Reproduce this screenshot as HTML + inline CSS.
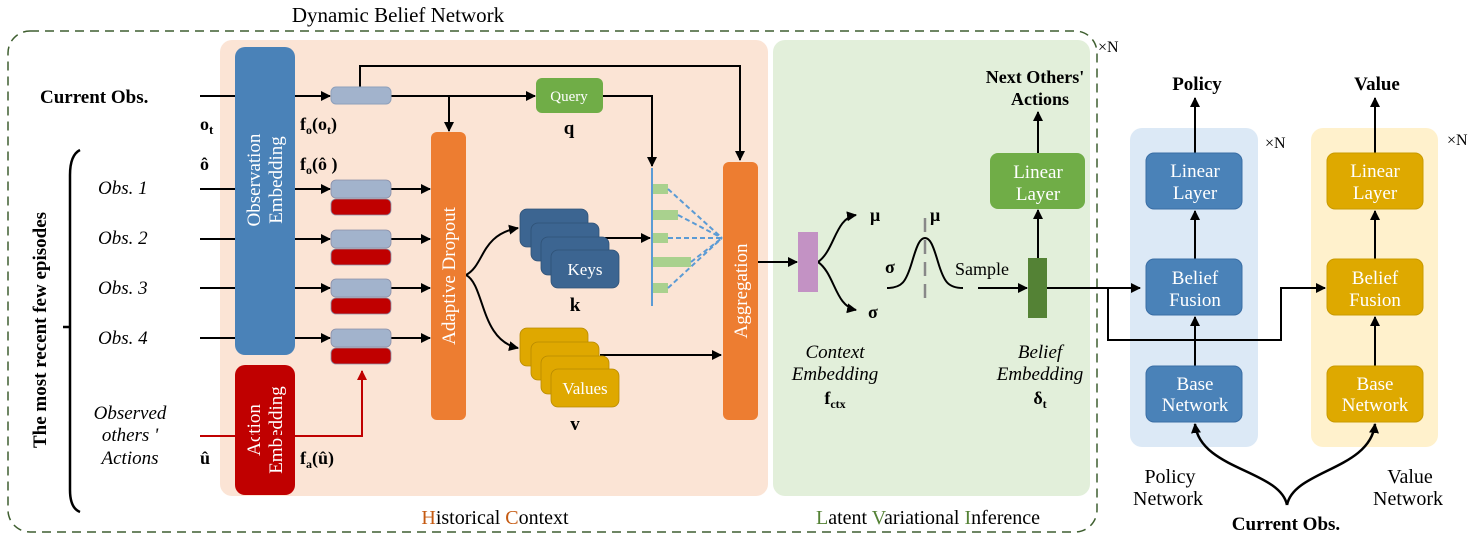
<!DOCTYPE html>
<html><head><meta charset="utf-8"><style>
html,body{margin:0;padding:0;background:#fff}
svg{display:block;font-family:"Liberation Serif","Times New Roman",Times,serif}
svg text{font-family:"Liberation Serif","Times New Roman",Times,serif}
.b{font-weight:bold}
.i{font-style:italic}
.w{fill:#fff}
</style></head><body>
<svg width="1478" height="542" viewBox="0 0 1478 542" xmlns="http://www.w3.org/2000/svg" font-family="Liberation Serif, Times New Roman, serif">
<defs>
<marker id="a" markerWidth="10" markerHeight="10" refX="9" refY="5" orient="auto" markerUnits="userSpaceOnUse"><path d="M0,0 L10,5 L0,10 Z" fill="#000"/></marker>
<marker id="ar" markerWidth="10" markerHeight="10" refX="9" refY="5" orient="auto" markerUnits="userSpaceOnUse"><path d="M0,0 L10,5 L0,10 Z" fill="#c00000"/></marker>
</defs>
<text x="398" y="22" font-size="21" text-anchor="middle">Dynamic Belief Network</text>
<rect x="8" y="31" width="1089" height="501" rx="22" fill="none" stroke="#3f5f30" stroke-width="1.5" stroke-dasharray="9,6"/>
<rect x="220" y="40" width="548" height="456" rx="12" fill="#fbe4d5"/>
<rect x="773" y="40" width="317" height="456" rx="12" fill="#e2efda"/>
<rect x="1130" y="128" width="128" height="319" rx="12" fill="#dce9f6"/>
<rect x="1311" y="128" width="127" height="319" rx="12" fill="#fff1cc"/>

<text x="40" y="103" font-size="19" class="b">Current Obs.</text>
<text x="200" y="130" font-size="18" class="b">o<tspan font-size="13" dy="4">t</tspan></text>
<text x="200" y="170" font-size="18" class="b">ô</text>
<text x="98" y="194" font-size="19" class="i">Obs. 1</text>
<text x="98" y="244" font-size="19" class="i">Obs. 2</text>
<text x="98" y="294" font-size="19" class="i">Obs. 3</text>
<text x="98" y="344" font-size="19" class="i">Obs. 4</text>
<text x="130" y="419" font-size="19" class="i" text-anchor="middle">Observed</text>
<text x="130" y="441" font-size="19" class="i" text-anchor="middle">others '</text>
<text x="130" y="464" font-size="19" class="i" text-anchor="middle">Actions</text>
<text x="200" y="464" font-size="18" class="b">û</text>
<text transform="translate(46,330) rotate(-90)" font-size="19" class="b" text-anchor="middle">The most recent few episodes</text>
<path d="M80,150 Q70,155 70,175 L70,490 Q70,508 80,512 M70,327 L63,327" fill="none" stroke="#000" stroke-width="2.5"/>

<rect x="235" y="47" width="60" height="308" rx="10" fill="#4a82b8"/>
<text transform="translate(260,180) rotate(-90)" font-size="19" class="w" text-anchor="middle">Observation</text>
<text transform="translate(282,180) rotate(-90)" font-size="19" class="w" text-anchor="middle">Embedding</text>
<rect x="235" y="365" width="60" height="130" rx="10" fill="#c00000"/>
<text transform="translate(260,430) rotate(-90)" font-size="19" class="w" text-anchor="middle">Action</text>
<text transform="translate(282,430) rotate(-90)" font-size="19" class="w" text-anchor="middle">Embedding</text>

<g stroke="#000" stroke-width="2" fill="none">
<line x1="200" y1="96" x2="235" y2="96"/><line x1="295" y1="96" x2="330" y2="96" marker-end="url(#a)"/>
<line x1="200" y1="189" x2="235" y2="189"/><line x1="295" y1="189" x2="330" y2="189" marker-end="url(#a)"/>
<line x1="200" y1="239" x2="235" y2="239"/><line x1="295" y1="239" x2="330" y2="239" marker-end="url(#a)"/>
<line x1="200" y1="288" x2="235" y2="288"/><line x1="295" y1="288" x2="330" y2="288" marker-end="url(#a)"/>
<line x1="200" y1="338" x2="235" y2="338"/><line x1="295" y1="338" x2="330" y2="338" marker-end="url(#a)"/>
<line x1="390" y1="189" x2="430" y2="189" marker-end="url(#a)"/>
<line x1="390" y1="239" x2="430" y2="239" marker-end="url(#a)"/>
<line x1="390" y1="288" x2="430" y2="288" marker-end="url(#a)"/>
<line x1="390" y1="338" x2="430" y2="338" marker-end="url(#a)"/>
<path d="M360,88 L360,66 L740,66 L740,160" marker-end="url(#a)"/>
<path d="M390,96 L535,96" marker-end="url(#a)"/>
<path d="M449,96 L449,131" marker-end="url(#a)"/>
<path d="M603,96 L652,96 L652,166" marker-end="url(#a)"/>
<path d="M466,275 C485,265 480,235 518,228" marker-end="url(#a)"/>
<path d="M466,275 C485,285 480,340 518,348" marker-end="url(#a)"/>
<line x1="605" y1="238" x2="650" y2="238" marker-end="url(#a)"/>
<line x1="600" y1="355" x2="721" y2="355" marker-end="url(#a)"/>
<line x1="758" y1="262" x2="797" y2="262" marker-end="url(#a)"/>
<path d="M818,262 C835,250 835,218 856,215" marker-end="url(#a)"/>
<path d="M818,262 C835,274 835,306 856,310" marker-end="url(#a)"/>
<line x1="978" y1="288" x2="1027" y2="288" marker-end="url(#a)"/>
<path d="M887,288 C902,288 906,282 912,262 C917,245 920,238 925,238 C930,238 933,245 938,262 C944,282 948,288 963,288"/>
<line x1="1038" y1="258" x2="1038" y2="210" marker-end="url(#a)"/>
<line x1="1038" y1="153" x2="1038" y2="112" marker-end="url(#a)"/>
<path d="M1047,288 L1140,288" marker-end="url(#a)"/>
<path d="M1108,288 L1108,340 L1281,340 L1281,288 L1325,288" marker-end="url(#a)"/>
<line x1="1195" y1="366" x2="1195" y2="317" marker-end="url(#a)"/>
<line x1="1195" y1="259" x2="1195" y2="211" marker-end="url(#a)"/>
<line x1="1195" y1="153" x2="1195" y2="98" marker-end="url(#a)"/>
<line x1="1375" y1="366" x2="1375" y2="317" marker-end="url(#a)"/>
<line x1="1375" y1="259" x2="1375" y2="211" marker-end="url(#a)"/>
<line x1="1375" y1="153" x2="1375" y2="98" marker-end="url(#a)"/>
<path d="M1287,505 C1280,470 1200,470 1195,424" marker-end="url(#a)" stroke-width="2.5"/>
<path d="M1287,505 C1294,470 1370,470 1375,424" marker-end="url(#a)" stroke-width="2.5"/>
</g>
<path d="M200,436 L362,436 L362,371" fill="none" stroke="#c00000" stroke-width="2" marker-end="url(#ar)"/>

<text x="300" y="130" font-size="18" class="b">f<tspan font-size="12" dy="4">o</tspan><tspan dy="-4">(o</tspan><tspan font-size="12" dy="4">t</tspan><tspan dy="-4">)</tspan></text>
<text x="300" y="170" font-size="18" class="b">f<tspan font-size="12" dy="4">o</tspan><tspan dy="-4">(ô )</tspan></text>
<text x="300" y="464" font-size="18" class="b">f<tspan font-size="12" dy="4">a</tspan><tspan dy="-4">(û)</tspan></text>

<rect x="331" y="87" width="60" height="17" rx="5" fill="#a2b3cc" stroke="#8ea0bb"/>
<g stroke="#8b8fa8" stroke-width="0.8">
<rect x="331" y="180" width="60" height="18" rx="5" fill="#a2b3cc"/><rect x="331" y="199" width="60" height="16" rx="5" fill="#c00000"/>
<rect x="331" y="230" width="60" height="18" rx="5" fill="#a2b3cc"/><rect x="331" y="249" width="60" height="16" rx="5" fill="#c00000"/>
<rect x="331" y="279" width="60" height="18" rx="5" fill="#a2b3cc"/><rect x="331" y="298" width="60" height="16" rx="5" fill="#c00000"/>
<rect x="331" y="329" width="60" height="18" rx="5" fill="#a2b3cc"/><rect x="331" y="348" width="60" height="16" rx="5" fill="#c00000"/>
</g>

<rect x="431" y="132" width="35" height="288" rx="6" fill="#ed7d31"/>
<text transform="translate(455,276) rotate(-90)" font-size="19" class="w" text-anchor="middle">Adaptive Dropout</text>
<rect x="723" y="162" width="35" height="258" rx="6" fill="#ed7d31"/>
<text transform="translate(747,291) rotate(-90)" font-size="19" class="w" text-anchor="middle">Aggregation</text>

<rect x="536" y="78" width="67" height="35" rx="6" fill="#70ad47"/>
<text x="569" y="101" font-size="15" class="w" text-anchor="middle">Query</text>
<text x="569" y="134" font-size="19" class="b" text-anchor="middle">q</text>

<g stroke="#2f5277" stroke-width="0.8" fill="#3c6591">
<rect x="520" y="209" width="68" height="38" rx="7"/><rect x="531" y="223" width="68" height="38" rx="7"/><rect x="541" y="237" width="68" height="38" rx="7"/><rect x="551" y="250" width="68" height="38" rx="7"/>
</g>
<text x="585" y="275" font-size="17" class="w" text-anchor="middle">Keys</text>
<text x="575" y="311" font-size="19" class="b" text-anchor="middle">k</text>
<g stroke="#b88a00" stroke-width="0.8" fill="#dfa800">
<rect x="520" y="328" width="68" height="38" rx="7"/><rect x="531" y="342" width="68" height="38" rx="7"/><rect x="541" y="356" width="68" height="38" rx="7"/><rect x="551" y="369" width="68" height="38" rx="7"/>
</g>
<text x="585" y="394" font-size="17" class="w" text-anchor="middle">Values</text>
<text x="575" y="430" font-size="19" class="b" text-anchor="middle">v</text>

<line x1="652" y1="168" x2="652" y2="306" stroke="#5b9bd5" stroke-width="2"/>
<g fill="#a9d18e">
<rect x="653" y="184" width="15" height="10"/><rect x="653" y="210" width="25" height="10"/><rect x="653" y="233" width="15" height="10"/><rect x="653" y="257" width="38" height="10"/><rect x="653" y="283" width="15" height="10"/>
</g>
<g stroke="#5b9bd5" stroke-width="2" stroke-dasharray="5,3" fill="none">
<line x1="668" y1="189" x2="722" y2="238"/><line x1="678" y1="215" x2="722" y2="238"/><line x1="668" y1="238" x2="722" y2="238"/><line x1="691" y1="262" x2="722" y2="238"/><line x1="668" y1="288" x2="722" y2="238"/>
</g>

<rect x="798" y="232" width="20" height="60" fill="#c392c4"/>
<text x="870" y="221" font-size="18" class="b">μ</text>
<text x="868" y="318" font-size="18" class="b">σ</text>
<line x1="925" y1="218" x2="925" y2="300" stroke="#888" stroke-width="2.5" stroke-dasharray="14,8"/>
<text x="930" y="221" font-size="18" class="b">μ</text>
<text x="885" y="273" font-size="18" class="b">σ</text>
<text x="955" y="275" font-size="18">Sample</text>
<rect x="1028" y="258" width="19" height="60" fill="#548235"/>
<text x="835" y="358" font-size="19" class="i" text-anchor="middle">Context</text>
<text x="835" y="380" font-size="19" class="i" text-anchor="middle">Embedding</text>
<text x="835" y="404" font-size="18" class="b" text-anchor="middle">f<tspan font-size="12" dy="4">ctx</tspan></text>
<text x="1040" y="358" font-size="19" class="i" text-anchor="middle">Belief</text>
<text x="1040" y="380" font-size="19" class="i" text-anchor="middle">Embedding</text>
<text x="1040" y="404" font-size="18" class="b" text-anchor="middle">δ<tspan font-size="12" dy="4">t</tspan></text>
<rect x="990" y="153" width="95" height="56" rx="8" fill="#70ad47"/>
<text x="1038" y="178" font-size="19" class="w" text-anchor="middle">Linear</text>
<text x="1038" y="200" font-size="19" class="w" text-anchor="middle">Layer</text>
<text x="1035" y="83" font-size="18" class="b" text-anchor="middle">Next Others'</text>
<text x="1040" y="105" font-size="18" class="b" text-anchor="middle">Actions</text>
<text x="1098" y="52" font-size="16">×N</text>

<g fill="#4a82b8" stroke="#3a6ea5">
<rect x="1146" y="153" width="96" height="56" rx="8"/><rect x="1146" y="259" width="96" height="56" rx="8"/><rect x="1146" y="366" width="96" height="56" rx="8"/>
</g>
<g fill="#dea900" stroke="#c99a00">
<rect x="1327" y="153" width="96" height="56" rx="8"/><rect x="1327" y="259" width="96" height="56" rx="8"/><rect x="1327" y="366" width="96" height="56" rx="8"/>
</g>
<g font-size="19" class="w" text-anchor="middle">
<text x="1195" y="177">Linear</text><text x="1195" y="199">Layer</text>
<text x="1195" y="284">Belief</text><text x="1195" y="306">Fusion</text>
<text x="1195" y="390">Base</text><text x="1195" y="411">Network</text>
<text x="1375" y="177">Linear</text><text x="1375" y="199">Layer</text>
<text x="1375" y="284">Belief</text><text x="1375" y="306">Fusion</text>
<text x="1375" y="390">Base</text><text x="1375" y="411">Network</text>
</g>
<text x="1197" y="90" font-size="19" class="b" text-anchor="middle">Policy</text>
<text x="1377" y="90" font-size="19" class="b" text-anchor="middle">Value</text>
<text x="1265" y="148" font-size="16">×N</text>
<text x="1447" y="145" font-size="16">×N</text>
<text x="1170" y="483" font-size="20" text-anchor="middle">Policy</text>
<text x="1168" y="505" font-size="20" text-anchor="middle">Network</text>
<text x="1410" y="483" font-size="20" text-anchor="middle">Value</text>
<text x="1408" y="505" font-size="20" text-anchor="middle">Network</text>
<text x="1286" y="530" font-size="19" class="b" text-anchor="middle">Current Obs.</text>

<text x="495" y="524" font-size="20" text-anchor="middle"><tspan fill="#c55a11">H</tspan>istorical <tspan fill="#c55a11">C</tspan>ontext</text>
<text x="928" y="524" font-size="20" text-anchor="middle"><tspan fill="#548235">L</tspan>atent <tspan fill="#548235">V</tspan>ariational <tspan fill="#548235">I</tspan>nference</text>
</svg>
</body></html>
